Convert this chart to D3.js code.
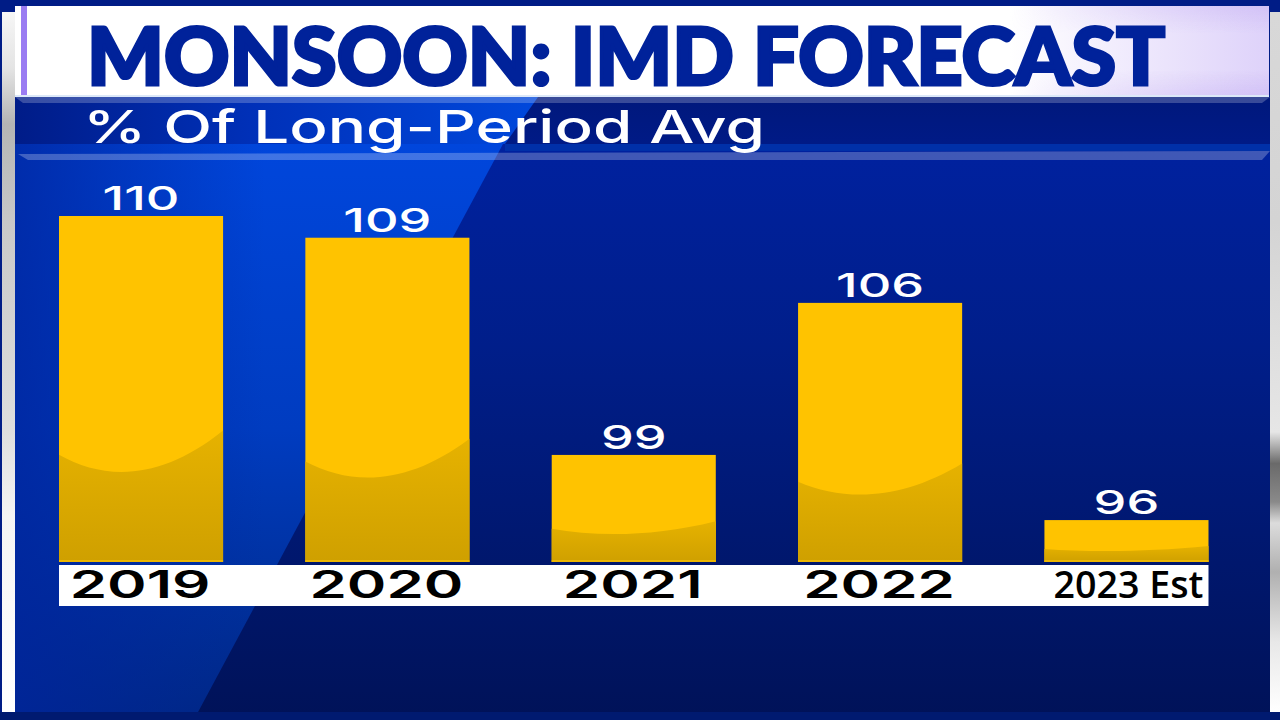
<!DOCTYPE html>
<html>
<head>
<meta charset="utf-8">
<script src="https://cdn.jsdelivr.net/npm/d3@7"></script>
<style>
html,body{margin:0;padding:0;background:#0020a0;overflow:hidden}
svg{display:block}
</style>
</head>
<body>
<svg id="chart" width="1280" height="720"></svg>
<script>
const categories = ["2019", "2020", "2021", "2022", "2023 Est"];
const values = [110, 109, 99, 106, 96];
const chartTitle = "MONSOON: IMD FORECAST";
const chartSubtitle = "% Of Long-Period Avg";

const svg = d3.select("#chart");
const defs = svg.append("defs");
function grad(id, stops, x2 = 0, y2 = 1) {
  const g = defs.append("linearGradient").attr("id", id)
    .attr("x1", 0).attr("y1", 0).attr("x2", x2).attr("y2", y2);
  stops.forEach(s => g.append("stop").attr("offset", s[0]).attr("stop-color", s[1]).attr("stop-opacity", s[2] === undefined ? 1 : s[2]));
}
grad("bgMain", [[0, "#0022a4"], [0.4, "#001e8a"], [1, "#001258"]]);
grad("bgLightV", [[0, "#0046dc"], [0.5, "#003cc0"], [1, "#002884"]]);
grad("leftFade", [[0, "#00249c", 0.75], [1, "#00249c", 0]], 1, 0);
grad("bandDark", [[0, "#00187c"], [1, "#001a86"]]);
grad("bandLeft", [[0, "#001c88"], [0.45, "#0030b8"], [1, "#0048dc"]], 1, 0);
grad("titleFill", [[0, "#ffffff"], [1, "#ded2fa"]], 1, 0);
grad("titleShade", [[0, "#c8b4f4", 0.55], [0.3, "#c8b4f4", 0], [0.7, "#c8b4f4", 0], [1, "#c8b4f4", 0.6]]);
grad("titleMask", [[0, "#ffffff", 0], [1, "#ffffff", 1]], 1, 0);
grad("barShade", [[0, "#e6b200"], [1, "#cfa000"]]);
grad("leftStrip", [[0, "#f6f6f6"], [0.08, "#e4e4e4"], [0.16, "#b4b4b4"], [0.3, "#c8c8c8"], [0.6, "#dedede"], [0.72, "#f4f4f4"], [1, "#ffffff"]]);
grad("rightStrip", [[0, "#d8d8d8"], [0.3, "#d4d4d4"], [0.6, "#e6e6e6"], [0.645, "#6a6a6a"], [0.7, "#8a8a8a"], [0.73, "#dcdcdc"], [0.8, "#b0b0b0"], [0.9, "#e8e8e8"], [1, "#ffffff"]]);

// Backdrop
svg.append("rect").attr("width", 1280).attr("height", 720).attr("fill", "#001c86");
svg.append("rect").attr("x", 2).attr("y", 12).attr("width", 13).attr("height", 700).attr("fill", "url(#leftStrip)");
svg.append("rect").attr("x", 1270).attr("y", 12).attr("width", 10).attr("height", 700).attr("fill", "url(#rightStrip)");
svg.append("rect").attr("x", 15).attr("y", 97).attr("width", 1255).attr("height", 623).attr("fill", "url(#bgMain)");
svg.append("rect").attr("x", 0).attr("y", 712).attr("width", 1280).attr("height", 8).attr("fill", "#001a70");

// Lighter diagonal sweep
defs.append("clipPath").attr("id", "sweep").append("path").attr("d", "M15,144 L503,144 L198,712 L15,712 Z");
const sweep = svg.append("g").attr("clip-path", "url(#sweep)");
sweep.append("rect").attr("x", 15).attr("y", 144).attr("width", 520).attr("height", 568).attr("fill", "url(#bgLightV)");
sweep.append("rect").attr("x", 15).attr("y", 144).attr("width", 250).attr("height", 568).attr("fill", "url(#leftFade)");

// Title panel
svg.append("rect").attr("x", 15).attr("y", 6).attr("width", 1254).attr("height", 91).attr("fill", "#ffffff");
svg.append("rect").attr("x", 1010).attr("y", 6).attr("width", 259).attr("height", 91).attr("fill", "url(#titleFill)");
defs.append("mask").attr("id", "titleFade").append("rect")
  .attr("x", 1010).attr("y", 6).attr("width", 259).attr("height", 91).attr("fill", "url(#titleMask)");
svg.append("rect").attr("x", 1010).attr("y", 6).attr("width", 259).attr("height", 91)
  .attr("fill", "url(#titleShade)").attr("mask", "url(#titleFade)");
svg.append("rect").attr("x", 21).attr("y", 6).attr("width", 6).attr("height", 91).attr("fill", "#9a7cf2");
svg.append("rect").attr("x", 15).attr("y", 95).attr("width", 1254).attr("height", 2).attr("fill", "#dce8f8");
svg.append("text").text(chartTitle)
  .attr("x", 87).attr("y", 84.5)
  .attr("font-family", "Lato").attr("font-weight", 900).attr("font-size", 80)
  .attr("textLength", 1078).attr("lengthAdjust", "spacingAndGlyphs")
  .attr("fill", "#00229a").attr("stroke", "#00229a").attr("stroke-width", 3.2).attr("stroke-linejoin", "miter");

// Subtitle band
svg.append("rect").attr("x", 15).attr("y", 97).attr("width", 1255).attr("height", 47).attr("fill", "url(#bandDark)");
svg.append("path").attr("d", "M15,97 L538,97 L505,144 L15,144 Z").attr("fill", "url(#bandLeft)");
svg.append("rect").attr("x", 505).attr("y", 144).attr("width", 765).attr("height", 7).attr("fill", "#0030a8");
svg.append("path").attr("d", "M15,97 L1270,97 L1262,103 L23,103 Z").attr("fill", "#ffffff").attr("fill-opacity", 0.22);
svg.append("path").attr("d", "M18,154 L1270,151 L1262,160 L28,160 Z").attr("fill", "#ffffff").attr("fill-opacity", 0.25);
svg.append("text").text(chartSubtitle)
  .attr("x", 83).attr("y", 143)
  .attr("font-family", "Inter").attr("font-weight", 500).attr("font-size", 45)
  .attr("textLength", 682).attr("lengthAdjust", "spacingAndGlyphs")
  .attr("fill", "#ffffff");

// Scales
const x = d3.scaleBand().domain(categories).range([59, 1208.5]).paddingInner(0.334).paddingOuter(0);
const y = d3.scaleLinear().domain([94.07, 110]).range([562, 216]);
const baseY = y.range()[0];

// Bars
const bars = svg.append("g").selectAll("g").data(values).join("g");
bars.append("rect")
  .attr("x", (d, i) => x(categories[i]))
  .attr("y", d => y(d))
  .attr("width", x.bandwidth())
  .attr("height", d => baseY - y(d))
  .attr("fill", "#ffc300");
// Glossy lower shade: same proportional curve in every bar
bars.append("path")
  .attr("d", (d, i) => {
    const x0 = x(categories[i]), w = x.bandwidth(), h = baseY - y(d);
    const p = d3.path();
    p.moveTo(x0, baseY - 0.31 * h);
    p.bezierCurveTo(x0 + 0.28 * w, baseY - 0.235 * h, x0 + 0.62 * w, baseY - 0.235 * h, x0 + w, baseY - 0.38 * h);
    p.lineTo(x0 + w, baseY);
    p.lineTo(x0, baseY);
    p.closePath();
    return p.toString();
  })
  .attr("fill", "url(#barShade)");
bars.append("rect")
  .attr("x", (d, i) => x(categories[i]))
  .attr("y", baseY - 2)
  .attr("width", x.bandwidth())
  .attr("height", 2)
  .attr("fill", "#ecb600");

// Value labels
svg.append("g").selectAll("text").data(values).join("text")
  .text(d => d)
  .attr("transform", (d, i) => `translate(${x(categories[i]) + x.bandwidth() / 2},${y(d) - 6}) scale(1.58,1)`)
  .attr("text-anchor", "middle")
  .attr("font-family", "Inter").attr("font-weight", 500).attr("font-size", 33)
  .attr("fill", "#ffffff");

// Category strip and axis
svg.append("rect").attr("x", 59).attr("y", 565).attr("width", 1149.5).attr("height", 41).attr("fill", "#ffffff");
const axis = svg.append("g").attr("transform", "translate(0,598)")
  .call(d3.axisBottom(x).tickSize(0).tickPadding(0));
axis.select(".domain").remove();
axis.selectAll("text")
  .attr("y", 0).attr("dy", 0)
  .attr("text-anchor", "middle")
  .attr("fill", "#000000")
  .attr("font-family", "Inter").attr("font-weight", 600).attr("font-size", 38)
  .attr("transform", "translate(-1,0) scale(1.58,1)")
  .each(function (d) {
    if (d === categories[categories.length - 1]) {
      d3.select(this).attr("font-family", "Open Sans").attr("font-weight", 600)
        .attr("font-size", 38).attr("transform", "translate(2,0) scale(0.99,1)");
    }
  });
</script>
</body>
</html>
